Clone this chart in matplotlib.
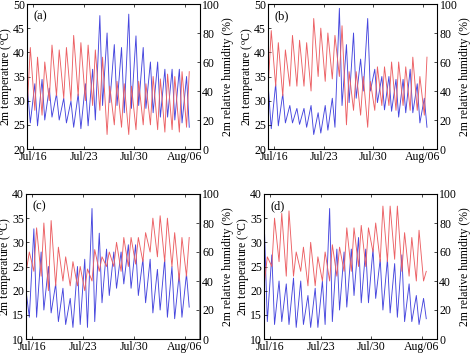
import matplotlib
matplotlib.use("Agg")
import matplotlib.pyplot as plt
import matplotlib.dates as mdates
import numpy as np

plt.rcParams['font.family'] = ['Liberation Serif', 'DejaVu Serif']
plt.rcParams['mathtext.fontset'] = 'stix'

# daily extremes, Jul 15 .. Aug 06 (23 days)
days = np.arange('2016-07-15', '2016-08-07', dtype='datetime64[D]')

# panel (a)
t_max_a = [41, 39, 38, 41.5, 40.5, 41, 43.5, 42, 41.5, 40.5, 39, 33, 34, 33.5, 33, 34, 33.5, 35, 34.5, 35.5, 35, 36, 36]
t_min_a = [30, 28, 27, 30, 31, 30.5, 30, 31, 30, 29, 28, 23, 25, 24.5, 23, 24, 25, 25, 24, 23.5, 24, 23.5, 24.5]
h_max_a = [40, 45, 48, 42, 38, 35, 33, 38, 45, 55, 92, 80, 72, 70, 93, 78, 70, 60, 60, 55, 55, 55, 50]
h_min_a = [18, 16, 20, 22, 20, 18, 15, 14, 16, 20, 30, 32, 30, 25, 28, 30, 28, 25, 22, 22, 20, 18, 15]

# panel (b)
t_max_b = [44.5, 42, 40.5, 43.5, 42.5, 42, 47, 45, 44, 43.5, 45.5, 36, 36, 35, 34, 37, 37, 38, 38, 37, 39, 35, 39]
t_min_b = [34.5, 33, 31, 33, 33, 33, 32, 35, 34, 34.5, 35, 25, 28, 27, 24.5, 28, 29, 29, 28, 29, 28, 28, 27]
h_max_b = [40, 45, 38, 30, 28, 28, 30, 25, 30, 35, 97, 72, 80, 62, 90, 55, 50, 50, 48, 48, 55, 45, 35]
h_min_b = [14, 16, 18, 18, 17, 15, 10, 11, 13, 15, 30, 32, 35, 40, 40, 32, 27, 26, 22, 25, 25, 18, 15]

# panel (c)
t_max_c = [28, 33, 34, 34.5, 29, 27, 26, 25, 24.5, 28.5, 27, 28, 30, 31, 31, 31, 32, 35, 35.5, 35, 32, 31, 31]
t_min_c = [24.5, 24, 23, 20, 21, 22, 21, 21, 20, 22, 24, 25, 25, 24, 25, 25.5, 26, 28, 27, 26, 25, 22, 23]
h_max_c = [30, 76, 60, 50, 38, 35, 28, 50, 55, 90, 73, 62, 60, 60, 65, 65, 55, 55, 48, 55, 50, 45, 45]
h_min_c = [15, 15, 20, 18, 12, 10, 8, 10, 8, 12, 25, 30, 35, 38, 35, 30, 25, 18, 20, 15, 14, 15, 22]

# panel (d)
t_max_d = [27, 35, 36, 36.5, 28, 29, 30, 27, 28, 29.5, 29, 33, 33, 33.5, 33, 34, 37.5, 37.5, 37.5, 32, 31, 32.5, 24]
t_min_d = [22, 25, 26, 23, 23, 24, 21, 21, 22, 22, 23, 24, 24, 25, 25, 28, 26, 26, 26.5, 24, 23, 22, 22]
h_max_d = [72, 58, 40, 38, 42, 40, 30, 35, 40, 90, 62, 60, 62, 70, 62, 62, 55, 55, 52, 58, 38, 30, 28]
h_min_d = [12, 10, 12, 10, 8, 10, 8, 8, 10, 12, 20, 22, 30, 25, 25, 28, 20, 18, 15, 12, 12, 10, 14]

labels = ['(a)', '(b)', '(c)', '(d)']
t_lims = [(20, 50), (20, 50), (10, 40), (10, 40)]
panels = [(t_max_a, t_min_a, h_max_a, h_min_a),
          (t_max_b, t_min_b, h_max_b, h_min_b),
          (t_max_c, t_min_c, h_max_c, h_min_c),
          (t_max_d, t_min_d, h_max_d, h_min_d)]

# axes boxes in pixels: left, top, right, bottom
W, H = 474, 354
boxes = [(27, 4, 199.5, 149), (268, 4, 437, 149),
         (26, 194, 199.5, 339), (264, 194, 436.5, 339)]


def zigzag(low, high, t_low, t_high):
    # alternate morning / afternoon extremes
    x, y = [], []
    for d, lo, hi in zip(days, low, high):
        x += [d + np.timedelta64(t_low, 'h'), d + np.timedelta64(t_high, 'h')]
        y += [lo, hi]
    return np.array(x).astype('datetime64[m]').astype('O'), y


red = '#ec6064'
blue = '#4646de'
fig = plt.figure(figsize=(W / 100, H / 100))
for lab, lim, (tmx, tmn, hmx, hmn), (l, t, r, b) in zip(labels, t_lims, panels, boxes):
    ax = fig.add_axes([l / W, 1 - b / H, (r - l) / W, (b - t) / H])
    ax2 = ax.twinx()

    xt, yt = zigzag(tmn, tmx, 5, 14)
    xh, yh = zigzag(hmx, hmn, 5, 14)
    ax2.plot(xh, yh, color=blue, lw=0.65)
    ax.plot(xt, yt, color=red, lw=0.65)
    ax.set_zorder(ax2.get_zorder() + 1)
    ax.patch.set_visible(False)

    ax.set_ylim(*lim)
    ax.set_yticks(np.arange(lim[0], lim[1] + 1, 5))
    ax2.set_ylim(0, 100)
    ax2.set_yticks(np.arange(0, 101, 20))
    ax.set_xlim(np.datetime64('2016-07-15T03:00').astype('O'),
                np.datetime64('2016-08-08T00:00').astype('O'))
    ax.set_xticks([np.datetime64(s).astype('O') for s in
                   ['2016-07-16', '2016-07-23', '2016-07-30', '2016-08-06']])
    ax.xaxis.set_major_formatter(mdates.DateFormatter('%b/%d'))
    ax.tick_params(direction='in', labelsize=8.5, top=True, length=2.5, width=0.5, pad=1.5)
    ax2.tick_params(direction='in', labelsize=8.5, length=2.5, width=0.5, pad=2)
    for sp in ax2.spines.values():
        sp.set_linewidth(0.5)
        sp.set_color('#555555')
    ax.set_ylabel('2m temperature ($^{\\rm o}$C)', fontsize=8.5, labelpad=-0.5)
    ax2.set_ylabel('2m relative humidity (%)', fontsize=8.5, labelpad=1)
    ax.text(0.04, 0.96, lab, transform=ax.transAxes, fontsize=9, va='top')

plt.savefig('out.png', dpi=100)
